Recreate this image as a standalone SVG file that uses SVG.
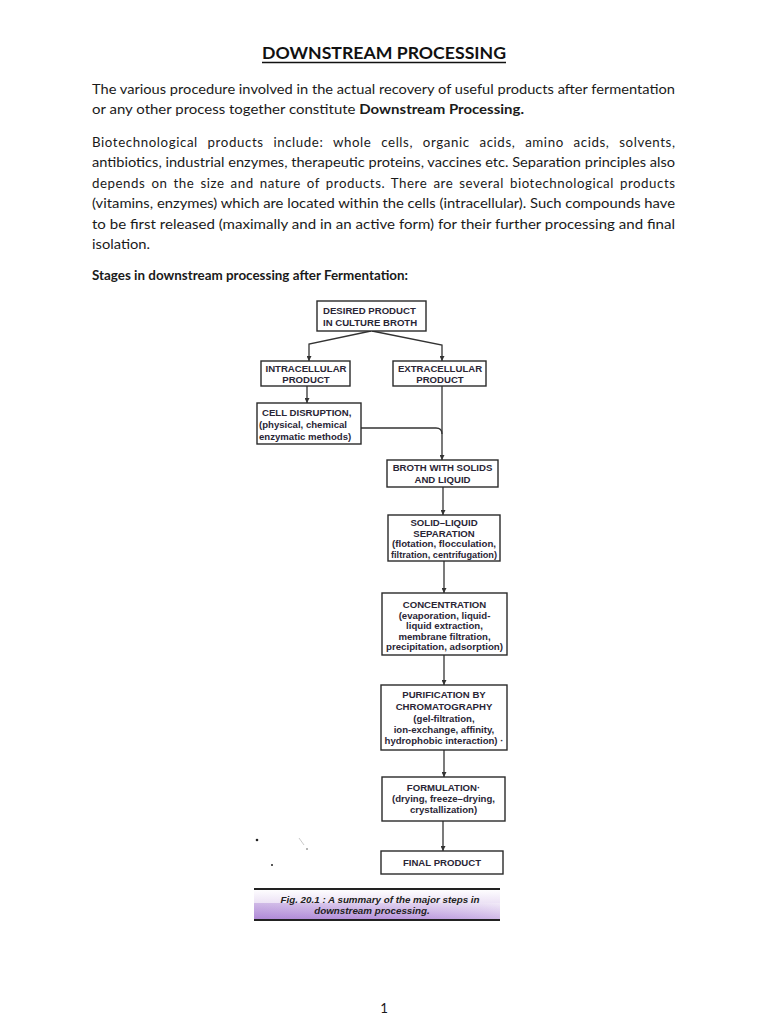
<svg xmlns="http://www.w3.org/2000/svg" width="768" height="1024" viewBox="0 0 768 1024">
<defs>
<style>
.body{font-family:Lato,"Liberation Sans",sans-serif;font-size:13.3px;fill:#1a1a1a}
.bold{font-weight:bold}
.title{font-family:Lato,"Liberation Sans",sans-serif;font-size:17px;font-weight:bold;fill:#111}
.box{fill:#fff;stroke:#2a2a2a;stroke-width:1.4}
.t{font-family:"Liberation Sans",Arial,sans-serif;font-weight:bold;font-size:9.6px;fill:#2a2636;text-anchor:middle}
.tl{text-anchor:start}
.conn{fill:none;stroke:#333;stroke-width:1.3}
.cap{font-family:"Liberation Sans",Arial,sans-serif;font-weight:bold;font-style:italic;font-size:9.8px;fill:#222;text-anchor:middle}
</style>
<marker id="arr" viewBox="0 0 10 10" refX="10" refY="5" markerWidth="5" markerHeight="5" orient="auto" markerUnits="userSpaceOnUse">
<path d="M0,0 L10,5 L0,10 z" fill="#333"/>
</marker>
<linearGradient id="capg" x1="0" y1="0" x2="0" y2="1">
<stop offset="0" stop-color="#ffffff"/>
<stop offset="0.45" stop-color="#ece2f5"/>
<stop offset="1" stop-color="#b996dc"/>
</linearGradient>
<linearGradient id="caph" x1="0" y1="0" x2="1" y2="0">
<stop offset="0" stop-color="#9a6ccc" stop-opacity="0.35"/>
<stop offset="0.5" stop-color="#9a6ccc" stop-opacity="0.15"/>
<stop offset="1" stop-color="#ffffff" stop-opacity="0.3"/>
</linearGradient>
</defs>
<rect width="768" height="1024" fill="#fff"/>

<g id="page-text">
<text class="title" x="262" y="59" textLength="244" lengthAdjust="spacingAndGlyphs">DOWNSTREAM PROCESSING</text>
<line x1="262" y1="62.5" x2="506" y2="62.5" stroke="#111" stroke-width="1.3"/>
<text class="body" x="92" y="94" textLength="583" lengthAdjust="spacingAndGlyphs">The various procedure involved in the actual recovery of useful products after fermentation</text>
<text class="body" x="92" y="114" textLength="432" lengthAdjust="spacingAndGlyphs">or any other process together constitute <tspan class="bold">Downstream Processing.</tspan></text>
<text class="body" x="92" y="147" word-spacing="5.8" textLength="583" lengthAdjust="spacing">Biotechnological products include: whole cells, organic acids, amino acids, solvents,</text>
<text class="body" x="92" y="167" textLength="583" lengthAdjust="spacingAndGlyphs">antibiotics, industrial enzymes, therapeutic proteins, vaccines etc. Separation principles also</text>
<text class="body" x="92" y="188" word-spacing="2.2" textLength="583" lengthAdjust="spacing">depends on the size and nature of products. There are several biotechnological products</text>
<text class="body" x="92" y="208" textLength="583" lengthAdjust="spacingAndGlyphs">(vitamins, enzymes) which are located within the cells (intracellular). Such compounds have</text>
<text class="body" x="92" y="229" textLength="583" lengthAdjust="spacingAndGlyphs">to be first released (maximally and in an active form) for their further processing and final</text>
<text class="body" x="92" y="249" textLength="58" lengthAdjust="spacingAndGlyphs">isolation.</text>
<text class="body bold" x="92" y="280" textLength="316" lengthAdjust="spacingAndGlyphs">Stages in downstream processing after Fermentation:</text>
<text class="body" x="384" y="1013" text-anchor="middle" font-size="12">1</text>
</g>

<g id="connectors">
<polyline class="conn" points="371,331 309,344 309,361" marker-end="url(#arr)"/>
<polyline class="conn" points="372,331 442,345 442,361" marker-end="url(#arr)"/>
<line class="conn" x1="307" y1="386" x2="307" y2="403" marker-end="url(#arr)"/>
<path class="conn" d="M361,428 H436 Q442,428 442,434"/>
<line class="conn" x1="442" y1="386" x2="442" y2="460" marker-end="url(#arr)"/>
<line class="conn" x1="443" y1="487" x2="443" y2="515" marker-end="url(#arr)"/>
<line class="conn" x1="444" y1="561" x2="444" y2="593" marker-end="url(#arr)"/>
<line class="conn" x1="444" y1="655" x2="444" y2="685" marker-end="url(#arr)"/>
<line class="conn" x1="444" y1="750" x2="444" y2="777" marker-end="url(#arr)"/>
<line class="conn" x1="443" y1="821" x2="443" y2="851" marker-end="url(#arr)"/>
</g>

<g id="n-desired">
<rect class="box" x="317" y="301" width="109" height="30"/>
<text class="t tl" x="323" y="314">DESIRED PRODUCT</text>
<text class="t tl" x="323" y="325.5">IN CULTURE BROTH</text>
</g>
<g id="n-intracellular">
<rect class="box" x="261" y="361" width="89" height="25"/>
<text class="t" x="306" y="372">INTRACELLULAR</text>
<text class="t" x="306" y="383">PRODUCT</text>
</g>
<g id="n-extracellular">
<rect class="box" x="393" y="361" width="93" height="25"/>
<text class="t" x="440" y="372">EXTRACELLULAR</text>
<text class="t" x="440" y="383">PRODUCT</text>
</g>
<g id="n-celldisruption">
<rect class="box" x="257" y="403" width="104" height="41"/>
<text class="t tl" x="262" y="416">CELL DISRUPTION,</text>
<text class="t tl" x="259" y="428">(physical, chemical</text>
<text class="t tl" x="259" y="439.5">enzymatic methods)</text>
</g>
<g id="n-broth">
<rect class="box" x="387" y="460" width="111" height="27"/>
<text class="t" x="442.5" y="471">BROTH WITH SOLIDS</text>
<text class="t" x="442.5" y="482.5">AND LIQUID</text>
</g>
<g id="n-solidliquid">
<rect class="box" x="388" y="515" width="112" height="46"/>
<text class="t" x="444" y="526">SOLID–LIQUID</text>
<text class="t" x="444" y="536.5">SEPARATION</text>
<text class="t" x="444" y="547" textLength="104" lengthAdjust="spacingAndGlyphs">(flotation, flocculation,</text>
<text class="t" x="444" y="557.5" textLength="106" lengthAdjust="spacingAndGlyphs">filtration, centrifugation)</text>
</g>
<g id="n-concentration">
<rect class="box" x="382" y="593" width="125" height="62"/>
<text class="t" x="444.5" y="607.5">CONCENTRATION</text>
<text class="t" x="444.5" y="618.5">(evaporation, liquid-</text>
<text class="t" x="444.5" y="629">liquid extraction,</text>
<text class="t" x="444.5" y="639.5">membrane filtration,</text>
<text class="t" x="444.5" y="650" textLength="117" lengthAdjust="spacingAndGlyphs">precipitation, adsorption)</text>
</g>
<g id="n-purification">
<rect class="box" x="381" y="685" width="126" height="65"/>
<text class="t" x="444" y="698">PURIFICATION BY</text>
<text class="t" x="444" y="709.5">CHROMATOGRAPHY</text>
<text class="t" x="444" y="721.5">(gel-filtration,</text>
<text class="t" x="444" y="732.5">ion-exchange, affinity,</text>
<text class="t" x="444" y="744">hydrophobic interaction) ·</text>
</g>
<g id="n-formulation">
<rect class="box" x="382" y="777" width="123" height="44"/>
<text class="t" x="443.5" y="790.5">FORMULATION·</text>
<text class="t" x="443.5" y="802">(drying, freeze–drying,</text>
<text class="t" x="443.5" y="813">crystallization)</text>
</g>
<g id="n-final">
<rect class="box" x="381" y="851" width="122" height="23"/>
<text class="t" x="442" y="866">FINAL PRODUCT</text>
</g>

<g id="caption">
<rect x="254" y="889" width="246" height="31" fill="url(#capg)"/>
<rect x="254" y="903" width="246" height="17" fill="url(#caph)"/>
<line x1="254" y1="889" x2="500" y2="889" stroke="#222" stroke-width="2"/>
<line x1="254" y1="920" x2="500" y2="920" stroke="#222" stroke-width="2"/>
<text class="cap" x="380" y="902.5">Fig. 20.1 : A summary of the major steps in</text>
<text class="cap" x="372" y="914">downstream processing.</text>
</g>

<g id="specks">
<circle cx="257" cy="840" r="1.3" fill="#222"/>
<circle cx="272" cy="865" r="1" fill="#222"/>
<line x1="299" y1="838" x2="304" y2="845" stroke="#bbb" stroke-width="0.8"/>
<circle cx="307" cy="849" r="0.8" fill="#555"/>
</g>
</svg>
